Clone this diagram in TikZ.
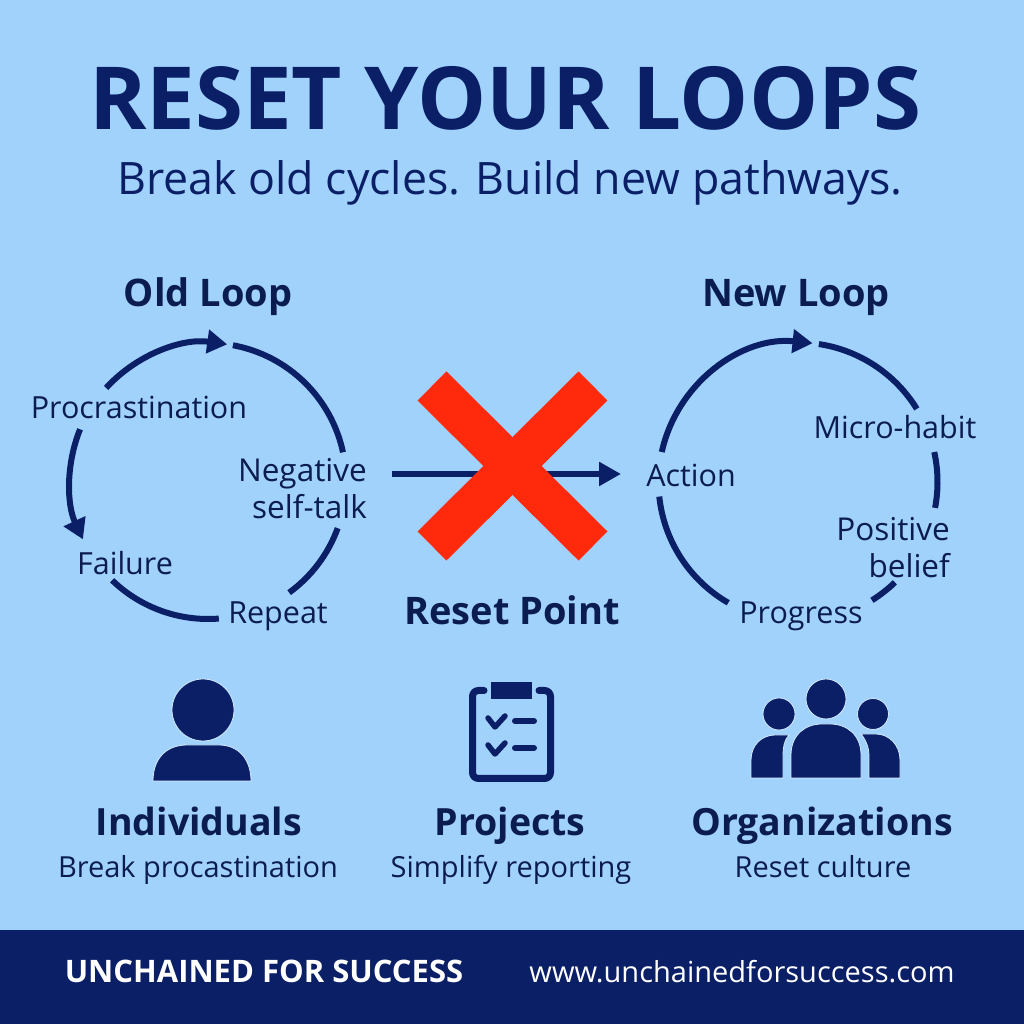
\documentclass[tikz,border=0pt]{standalone}
\usepackage{fontspec}
\setmainfont{Open Sans}
\usetikzlibrary{arrows.meta}
\definecolor{skybg}{HTML}{A1D2FC}
\definecolor{navy}{HTML}{0A1F66}
\definecolor{inkblue}{HTML}{0B1C50}
\definecolor{crossred}{HTML}{FF2A0C}
\definecolor{halo}{HTML}{D4EBFD}
\tikzset{
  title/.style={anchor=base,text=navy,font=\fontsize{87}{87}\selectfont\bfseries},
  subtitle/.style={anchor=base,text=navy,font=\fontsize{44.7}{45}\selectfont},
  loophead/.style={anchor=base,text=inkblue,font=\fontsize{38}{38}\selectfont\bfseries},
  looplabel/.style={anchor=base,text=inkblue,inner sep=0pt,font=\fontsize{30.5}{37}\selectfont},
  twoline/.style={looplabel,anchor=east,align=right,font=\fontsize{31.5}{37}\selectfont},
  grouphead/.style={anchor=base,text=inkblue,font=\fontsize{37.5}{38}\selectfont\bfseries},
  groupsub/.style={anchor=base,text=inkblue,font=\fontsize{29}{29}\selectfont},
  loopline/.style={draw=navy,line width=6pt},
  looparrow/.style={loopline,-{Triangle[length=20pt,width=23pt]}},
  iconfill/.style={fill=navy,draw=halo,line width=0.8pt},
  iconline/.style={draw=navy,line cap=round,line join=round}
}
\begin{document}
\begin{tikzpicture}[x=1pt,y=1pt]
\useasboundingbox (0,0) rectangle (1024,1024);
\fill[skybg] (0,0) rectangle (1024,1024);
\fill[navy] (0,0) rectangle (1024,94);

\node[title] (maintitle) at (505,894) {RESET YOUR LOOPS};
\node[subtitle] (tagline) at (510,829) {Break old cycles. Build new pathways.};

\node[loophead] (oldhead) at (208,717) {Old Loop};
\node[loophead] (newhead) at (796,717) {New Loop};
\node[loophead] (resethead) at (512,399) {Reset Point};

\coordinate (oldc) at (208,543);
\coordinate (newc) at (798,542);

\draw[looparrow] ([shift={(oldc)}]137.6:138) arc (137.6:82:138);
\draw[loopline] ([shift={(oldc)}]79.6:138) arc (79.6:12:138);
\draw[loopline] ([shift={(oldc)}]-20:138) arc (-20:-54:138);
\draw[loopline] ([shift={(oldc)}]-85.5:138) arc (-85.5:-134:138);
\draw[looparrow] ([shift={(oldc)}]158:138) arc (158:205:138);

\node[looplabel] (procrast) at (139,605) {Procrastination};
\node[twoline] (negative) at (367,535) {Negative\\self-talk};
\node[looplabel] (failure) at (125,449) {Failure};
\node[looplabel] (repeatlbl) at (278,400) {Repeat};

\draw[looparrow] ([shift={(newc)}]167.6:139.5) arc (167.6:84:139.5);
\draw[loopline] ([shift={(newc)}]81.4:139.5) arc (81.4:31.6:139.5);
\draw[loopline] ([shift={(newc)}]12.4:139.5) arc (12.4:-10.7:139.5);
\draw[loopline] ([shift={(newc)}]-46:139.5) arc (-46:-58:139.5);
\draw[loopline] ([shift={(newc)}]240:139.5) arc (240:186:139.5);

\node[looplabel] (action) at (691,537) {Action};
\node[looplabel] (microhabit) at (895,585) {Micro-habit};
\node[twoline] (positive) at (950,476) {Positive\\belief};
\node[looplabel] (progress) at (801,400) {Progress};

\coordinate (resetin) at (392,550);
\coordinate (resetout) at (621,550);
\draw[loopline,-{Triangle[length=22pt,width=23pt]}] (resetin) -- (resetout);
\draw[crossred,line width=41pt] (432,638) -- (593,478);
\draw[crossred,line width=41pt] (593,638) -- (432,478);

\fill[iconfill] (203,314) circle (31);
\filldraw[iconfill] (153,243) .. controls (153,264) and (165,279) .. (187,279) -- (219,279)
  .. controls (239,279) and (251,264) .. (251,243) -- cycle;

\draw[iconline,line width=7pt,rounded corners=6pt] (484,333.5) -- (472.5,333.5) -- (472.5,245.5)
  -- (550.5,245.5) -- (550.5,333.5) -- (539,333.5);
\fill[navy] (491,325) rectangle (532,342);
\draw[iconline,line width=5.5pt] (488,306) -- (495,297) -- (505,308);
\draw[iconline,line width=6pt] (515,303) -- (534,303);
\draw[iconline,line width=5.5pt] (488,279) -- (495,270) -- (505,281);
\draw[iconline,line width=6pt] (515,276) -- (534,276);

\filldraw[iconfill] (779,310) circle (16);
\filldraw[iconfill] (873,310) circle (15.5);
\filldraw[iconfill] (826,325) circle (20);
\filldraw[iconfill] (751,246) -- (751,264) .. controls (751,279) and (762,289) .. (775,289) -- (789,289)
  .. controls (784,284) and (783,276) .. (783,269) -- (783,246) -- cycle;
\filldraw[iconfill] (900,246) -- (900,264) .. controls (900,279) and (889,290) .. (876,290) -- (861,290)
  .. controls (866,284) and (869,276) .. (869,269) -- (869,246) -- cycle;
\filldraw[iconfill] (791,246) -- (791,269) .. controls (791,289) and (805,300) .. (822,300) -- (830,300)
  .. controls (847,300) and (861,289) .. (861,269) -- (861,246) -- cycle;

\node[grouphead] (individuals) at (199,188) {Individuals};
\node[grouphead] (projects) at (510,188) {Projects};
\node[grouphead] (organizations) at (822,188) {Organizations};
\node[groupsub] (indsub) at (198,146) {Break procastination};
\node[groupsub] (prosub) at (511,146) {Simplify reporting};
\node[groupsub] (orgsub) at (823,146) {Reset culture};

\node[anchor=base,text=white,font=\fontsize{31}{31}\selectfont\bfseries] (brand) at (264,41) {UNCHAINED FOR SUCCESS};
\node[anchor=base,text=white,font=\fontsize{29}{29}\selectfont] (website) at (742,41) {www.unchainedforsuccess.com};
\end{tikzpicture}
\end{document}
